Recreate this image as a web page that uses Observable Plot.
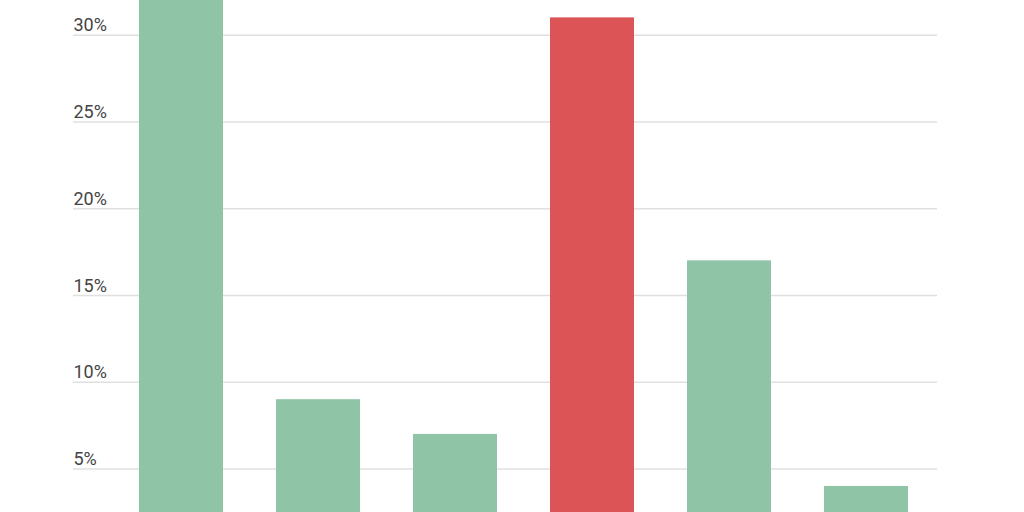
<!DOCTYPE html>
<html>
<head>
<meta charset="utf-8">
<script src="https://cdn.jsdelivr.net/npm/d3@7"></script>
<script src="https://cdn.jsdelivr.net/npm/@observablehq/plot@0.6"></script>
<style>
  html, body { margin: 0; padding: 0; background: #fff; overflow: hidden; }
  #chart svg { display: block; }
</style>
</head>
<body>
<div id="chart"></div>
<script>
const categories = ["A", "B", "C", "D", "E", "F"];
const values = [32, 9, 7, 31, 17, 4];
const highlight = ["D"];
const yTicks = [5, 10, 15, 20, 25, 30];
const tickLabels = ["5%", "10%", "15%", "20%", "25%", "30%"];

const data = categories.map((c, i) => ({category: c, value: values[i], hi: highlight.includes(c)}));
const ticks = yTicks.map((t, i) => ({t, label: tickLabels[i]}));

const chart = Plot.plot({
  width: 1024,
  height: 512,
  marginTop: 0,
  marginBottom: 0,
  marginLeft: 73,
  marginRight: 87,
  style: {fontFamily: "Roboto", background: "#fff"},
  x: {domain: categories, range: [110, 937], paddingInner: 0.384, paddingOuter: 0.2, axis: null},
  y: {domain: [2.5, 32], axis: null},
  marks: [
    Plot.ruleY(ticks, {y: "t", stroke: "#e0e0e0", strokeWidth: 1.5}),
    Plot.barY(data, {x: "category", y: "value", fill: d => d.hi ? "#dc5455" : "#8fc4a7", clip: true}),
    Plot.text(ticks, {y: "t", text: "label", frameAnchor: "left", textAnchor: "start", lineAnchor: "bottom", dy: -4, fontSize: 18, fill: "#444"})
  ]
});
document.getElementById("chart").appendChild(chart);
</script>
</body>
</html>
